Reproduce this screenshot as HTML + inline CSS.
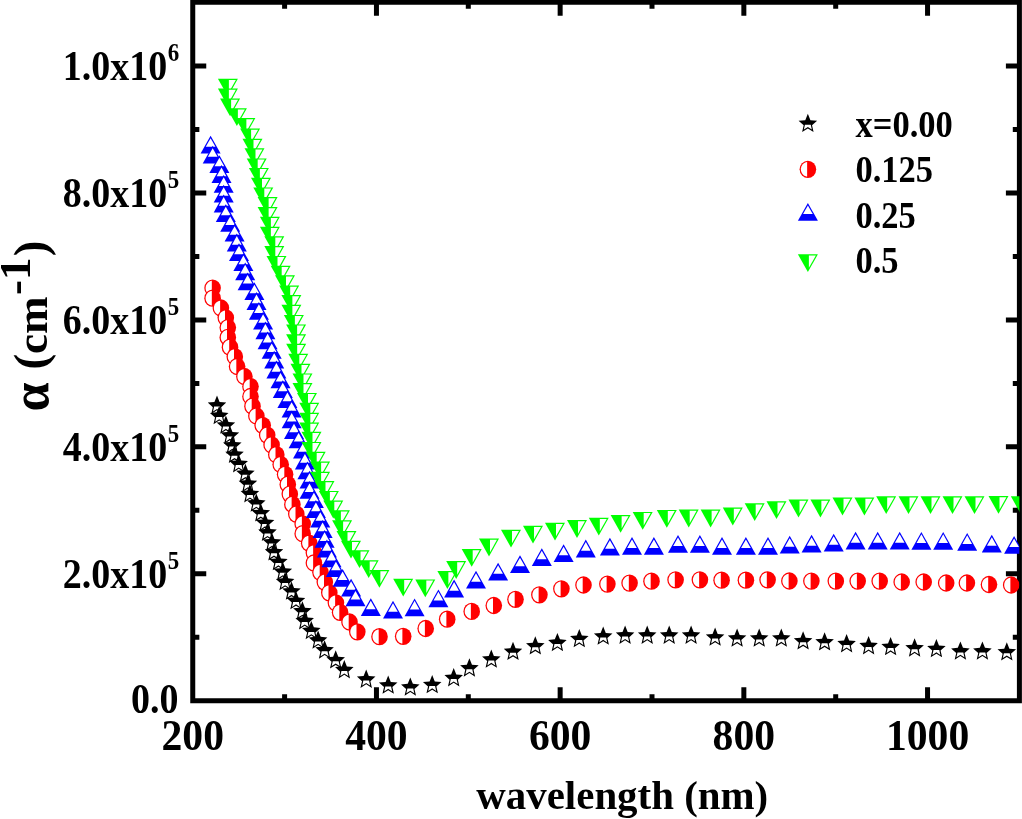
<!DOCTYPE html>
<html lang="en"><head><meta charset="utf-8"><title>Absorption coefficient vs wavelength</title>
<style>html,body{margin:0;padding:0;background:#fff;}body{width:1022px;height:819px;overflow:hidden;}svg{display:block;}</style></head><body>
<svg width="1022" height="819" viewBox="0 0 1022 819">
<defs>
<g id="s0"><polygon points="0,-9.89 2.58,-3.44 9.27,-2.88 4.17,1.66 5.73,8.45 0,4.81 -5.73,8.45 -4.17,1.66 -9.27,-2.88 -2.58,-3.44" fill="#000"/><polygon points="3.07,1.1 2.9,1.25 3.98,5.98 0,3.45 -3.98,5.98 -2.9,1.25 -3.07,1.1" fill="#fff"/></g>
<g id="s1"><ellipse rx="8.3" ry="8.65" fill="#f00"/><polygon points="-0.8,7.29 -0.91,7.29 -1.81,7.1 -2.68,6.79 -3.5,6.37 -4.26,5.83 -4.95,5.2 -5.55,4.47 -6.06,3.67 -6.47,2.81 -6.76,1.9 -6.94,0.96 -7,0 -6.94,-0.96 -6.76,-1.9 -6.47,-2.81 -6.06,-3.67 -5.55,-4.47 -4.95,-5.2 -4.26,-5.83 -3.5,-6.37 -2.68,-6.79 -1.81,-7.1 -0.91,-7.29 -0.8,-7.29" fill="#fff"/></g>
<g id="s2"><polygon points="0,-10.9 10,6.9 -10,6.9" fill="#00f"/><polygon points="0,-8.45 4.83,0.15 -4.83,0.15" fill="#fff"/></g>
<g id="s3"><polygon points="0,10.9 10,-6.9 -10,-6.9" fill="#0f0"/><polygon points="1,6.67 7.95,-5.7 1,-5.7" fill="#fff"/></g>
<clipPath id="cp"><rect x="192.75" y="2.2" width="826.65" height="698.55"/></clipPath>
</defs>
<rect width="1022" height="819" fill="#fff"/>
<g stroke="#000" stroke-width="5" fill="none" stroke-linecap="butt">
<path d="M190.25,700.75 H1021.9 M190.25,2.2 H1021.9 M192.75,2.2 V700.75 M1019.4,2.2 V700.75"/>
</g>
<g stroke="#000" stroke-width="5" fill="none">
<path d="M284.6,700.75 v-6.6 M284.6,2.2 v6.6 M376.45,700.75 v-13.5 M376.45,2.2 v13.5 M468.3,700.75 v-6.6 M468.3,2.2 v6.6 M560.15,700.75 v-13.5 M560.15,2.2 v13.5 M652,700.75 v-6.6 M652,2.2 v6.6 M743.85,700.75 v-13.5 M743.85,2.2 v13.5 M835.7,700.75 v-6.6 M835.7,2.2 v6.6 M927.55,700.75 v-13.5 M927.55,2.2 v13.5 M192.75,637.27 h6.6 M1019.4,637.27 h-6.6 M192.75,573.8 h13.5 M1019.4,573.8 h-13.5 M192.75,510.32 h6.6 M1019.4,510.32 h-6.6 M192.75,446.85 h13.5 M1019.4,446.85 h-13.5 M192.75,383.38 h6.6 M1019.4,383.38 h-6.6 M192.75,319.9 h13.5 M1019.4,319.9 h-13.5 M192.75,256.43 h6.6 M1019.4,256.43 h-6.6 M192.75,192.95 h13.5 M1019.4,192.95 h-13.5 M192.75,129.48 h6.6 M1019.4,129.48 h-6.6 M192.75,66 h13.5 M1019.4,66 h-13.5"/>
</g>
<g clip-path="url(#cp)">
<g id="series-x0">
<use href="#s0" x="217" y="405.5"/>
<use href="#s0" x="219.2" y="415.8"/>
<use href="#s0" x="225.9" y="425.4"/>
<use href="#s0" x="229.9" y="435.4"/>
<use href="#s0" x="232.3" y="445.4"/>
<use href="#s0" x="234.5" y="454.6"/>
<use href="#s0" x="238.7" y="464"/>
<use href="#s0" x="245.4" y="473.6"/>
<use href="#s0" x="247.9" y="483.7"/>
<use href="#s0" x="249.9" y="494"/>
<use href="#s0" x="256.3" y="503.3"/>
<use href="#s0" x="260.8" y="513.1"/>
<use href="#s0" x="265.1" y="522.9"/>
<use href="#s0" x="267.5" y="532.5"/>
<use href="#s0" x="271.9" y="542.4"/>
<use href="#s0" x="274" y="552.1"/>
<use href="#s0" x="278.4" y="561.9"/>
<use href="#s0" x="282.8" y="571.7"/>
<use href="#s0" x="285.1" y="581.8"/>
<use href="#s0" x="291.5" y="591.4"/>
<use href="#s0" x="296" y="600.9"/>
<use href="#s0" x="302.4" y="611.2"/>
<use href="#s0" x="304.7" y="621"/>
<use href="#s0" x="311.3" y="630.8"/>
<use href="#s0" x="318.1" y="640.3"/>
<use href="#s0" x="324.6" y="650.2"/>
<use href="#s0" x="335.7" y="660.1"/>
<use href="#s0" x="344.3" y="670"/>
<use href="#s0" x="366.2" y="679.5"/>
<use href="#s0" x="388.2" y="685.4"/>
<use href="#s0" x="410.3" y="687.3"/>
<use href="#s0" x="432.2" y="684.9"/>
<use href="#s0" x="453.7" y="678"/>
<use href="#s0" x="469.4" y="668.2"/>
<use href="#s0" x="491.3" y="659.4"/>
<use href="#s0" x="513" y="651.6"/>
<use href="#s0" x="535.3" y="646.1"/>
<use href="#s0" x="557.4" y="642.8"/>
<use href="#s0" x="579.3" y="638.9"/>
<use href="#s0" x="603.2" y="636.4"/>
<use href="#s0" x="625.1" y="635.5"/>
<use href="#s0" x="647.2" y="635.5"/>
<use href="#s0" x="669.2" y="635.5"/>
<use href="#s0" x="691.1" y="635.5"/>
<use href="#s0" x="715.1" y="637.4"/>
<use href="#s0" x="737.1" y="638.4"/>
<use href="#s0" x="759.2" y="638.4"/>
<use href="#s0" x="781.3" y="638.4"/>
<use href="#s0" x="803.1" y="641.1"/>
<use href="#s0" x="824.6" y="642.1"/>
<use href="#s0" x="846.6" y="644"/>
<use href="#s0" x="868.6" y="646"/>
<use href="#s0" x="890.6" y="646.9"/>
<use href="#s0" x="914.6" y="648.2"/>
<use href="#s0" x="936.4" y="648.9"/>
<use href="#s0" x="960.4" y="651.3"/>
<use href="#s0" x="982.4" y="651.3"/>
<use href="#s0" x="1006.8" y="652.1"/>
</g>
<g id="series-x0125">
<use href="#s1" x="212.6" y="288.1"/>
<use href="#s1" x="212.6" y="298.2"/>
<use href="#s1" x="220.9" y="308"/>
<use href="#s1" x="225.8" y="317.8"/>
<use href="#s1" x="227.8" y="327.6"/>
<use href="#s1" x="227.8" y="337.4"/>
<use href="#s1" x="230" y="347.2"/>
<use href="#s1" x="234.8" y="356.7"/>
<use href="#s1" x="237.1" y="366.5"/>
<use href="#s1" x="244.4" y="376.5"/>
<use href="#s1" x="250.5" y="386.6"/>
<use href="#s1" x="250.5" y="396.5"/>
<use href="#s1" x="252.5" y="406.2"/>
<use href="#s1" x="256.4" y="416"/>
<use href="#s1" x="262.7" y="425.3"/>
<use href="#s1" x="267.2" y="435.1"/>
<use href="#s1" x="271.6" y="444.9"/>
<use href="#s1" x="276.3" y="454.7"/>
<use href="#s1" x="280.7" y="464.5"/>
<use href="#s1" x="285.1" y="474.3"/>
<use href="#s1" x="287.8" y="484.4"/>
<use href="#s1" x="289.8" y="494.1"/>
<use href="#s1" x="292.4" y="504.4"/>
<use href="#s1" x="296.3" y="514.1"/>
<use href="#s1" x="302.7" y="523.9"/>
<use href="#s1" x="302.7" y="533.7"/>
<use href="#s1" x="309.2" y="543.2"/>
<use href="#s1" x="313.9" y="552.8"/>
<use href="#s1" x="313.9" y="563"/>
<use href="#s1" x="320.5" y="572.3"/>
<use href="#s1" x="324.8" y="582.1"/>
<use href="#s1" x="329.3" y="592.8"/>
<use href="#s1" x="335.9" y="602.8"/>
<use href="#s1" x="340.1" y="612.3"/>
<use href="#s1" x="349.5" y="622"/>
<use href="#s1" x="357.3" y="631.8"/>
<use href="#s1" x="379.5" y="636.7"/>
<use href="#s1" x="403.2" y="636.3"/>
<use href="#s1" x="425.7" y="628.5"/>
<use href="#s1" x="447.2" y="619.2"/>
<use href="#s1" x="471.7" y="611.4"/>
<use href="#s1" x="493.8" y="605.5"/>
<use href="#s1" x="515.5" y="599.3"/>
<use href="#s1" x="539.4" y="594.8"/>
<use href="#s1" x="561.4" y="588.8"/>
<use href="#s1" x="583.5" y="585"/>
<use href="#s1" x="607.4" y="584.1"/>
<use href="#s1" x="629.6" y="583.1"/>
<use href="#s1" x="651.5" y="581.2"/>
<use href="#s1" x="675.6" y="579.8"/>
<use href="#s1" x="699.9" y="579.8"/>
<use href="#s1" x="721.6" y="580.2"/>
<use href="#s1" x="745.9" y="580.2"/>
<use href="#s1" x="767.6" y="579.8"/>
<use href="#s1" x="789.4" y="581"/>
<use href="#s1" x="811.4" y="581.1"/>
<use href="#s1" x="835.8" y="581.1"/>
<use href="#s1" x="857.7" y="581.1"/>
<use href="#s1" x="879.7" y="581.1"/>
<use href="#s1" x="901.7" y="582"/>
<use href="#s1" x="923.7" y="582"/>
<use href="#s1" x="946.2" y="583"/>
<use href="#s1" x="966.9" y="583"/>
<use href="#s1" x="989" y="584.5"/>
<use href="#s1" x="1011.2" y="585"/>
</g>
<g id="series-x025">
<use href="#s2" x="210.6" y="146.7"/>
<use href="#s2" x="212.7" y="156.7"/>
<use href="#s2" x="219.4" y="166.2"/>
<use href="#s2" x="221.5" y="176"/>
<use href="#s2" x="223.7" y="185.8"/>
<use href="#s2" x="223.7" y="195.6"/>
<use href="#s2" x="223.7" y="205.5"/>
<use href="#s2" x="225.8" y="215.1"/>
<use href="#s2" x="230.2" y="224.9"/>
<use href="#s2" x="234.6" y="234.7"/>
<use href="#s2" x="236.8" y="244.5"/>
<use href="#s2" x="239" y="254.2"/>
<use href="#s2" x="243.4" y="264"/>
<use href="#s2" x="245.2" y="273.3"/>
<use href="#s2" x="247.6" y="283.4"/>
<use href="#s2" x="254.4" y="293.2"/>
<use href="#s2" x="256.5" y="303"/>
<use href="#s2" x="258.9" y="312.8"/>
<use href="#s2" x="263.1" y="322.6"/>
<use href="#s2" x="265.4" y="332.4"/>
<use href="#s2" x="267.6" y="342.3"/>
<use href="#s2" x="271.7" y="351.9"/>
<use href="#s2" x="274.2" y="361.7"/>
<use href="#s2" x="276.4" y="371.5"/>
<use href="#s2" x="280.5" y="381.4"/>
<use href="#s2" x="282.8" y="391.1"/>
<use href="#s2" x="287.4" y="401"/>
<use href="#s2" x="291.6" y="410.6"/>
<use href="#s2" x="291.7" y="421.4"/>
<use href="#s2" x="294" y="432.1"/>
<use href="#s2" x="298.6" y="441.4"/>
<use href="#s2" x="303" y="451.7"/>
<use href="#s2" x="304.9" y="462.5"/>
<use href="#s2" x="307.4" y="472.3"/>
<use href="#s2" x="309.5" y="481.6"/>
<use href="#s2" x="309.5" y="491.9"/>
<use href="#s2" x="313.9" y="501.2"/>
<use href="#s2" x="315.9" y="511"/>
<use href="#s2" x="320.3" y="520.7"/>
<use href="#s2" x="322.6" y="531"/>
<use href="#s2" x="324.6" y="540.8"/>
<use href="#s2" x="326.9" y="550.5"/>
<use href="#s2" x="331.5" y="560.3"/>
<use href="#s2" x="335.9" y="570.1"/>
<use href="#s2" x="342.6" y="579.9"/>
<use href="#s2" x="351.1" y="589.7"/>
<use href="#s2" x="355.5" y="599.4"/>
<use href="#s2" x="370.8" y="609.2"/>
<use href="#s2" x="393" y="611.7"/>
<use href="#s2" x="414.6" y="609.3"/>
<use href="#s2" x="438.4" y="600.3"/>
<use href="#s2" x="454.1" y="590.5"/>
<use href="#s2" x="476" y="581.7"/>
<use href="#s2" x="498.1" y="573.7"/>
<use href="#s2" x="520" y="566.1"/>
<use href="#s2" x="541.8" y="559.1"/>
<use href="#s2" x="563.6" y="555.1"/>
<use href="#s2" x="585.8" y="550.5"/>
<use href="#s2" x="609.9" y="548.6"/>
<use href="#s2" x="632" y="547.9"/>
<use href="#s2" x="653.9" y="547.9"/>
<use href="#s2" x="678" y="545.9"/>
<use href="#s2" x="699.9" y="545.9"/>
<use href="#s2" x="722" y="547.9"/>
<use href="#s2" x="745.9" y="547.9"/>
<use href="#s2" x="768" y="547.9"/>
<use href="#s2" x="789.7" y="546.7"/>
<use href="#s2" x="811.6" y="545.7"/>
<use href="#s2" x="833.7" y="544.7"/>
<use href="#s2" x="855.6" y="542.7"/>
<use href="#s2" x="877.7" y="542.7"/>
<use href="#s2" x="899.7" y="542.7"/>
<use href="#s2" x="921.4" y="542.8"/>
<use href="#s2" x="943.2" y="542.8"/>
<use href="#s2" x="967.2" y="543.8"/>
<use href="#s2" x="991.8" y="545.7"/>
<use href="#s2" x="1014.1" y="546.9"/>
</g>
<g id="series-x05">
<use href="#s3" x="227.9" y="85.7"/>
<use href="#s3" x="227.9" y="95.5"/>
<use href="#s3" x="230.1" y="105.4"/>
<use href="#s3" x="236.9" y="115.1"/>
<use href="#s3" x="245.4" y="124.9"/>
<use href="#s3" x="250.1" y="135.4"/>
<use href="#s3" x="252.5" y="145.6"/>
<use href="#s3" x="254.5" y="155.2"/>
<use href="#s3" x="256.7" y="165.3"/>
<use href="#s3" x="258.9" y="174.8"/>
<use href="#s3" x="261" y="184.6"/>
<use href="#s3" x="263.3" y="194.3"/>
<use href="#s3" x="267.6" y="204"/>
<use href="#s3" x="267.6" y="213.9"/>
<use href="#s3" x="269.9" y="223.6"/>
<use href="#s3" x="269.9" y="233.6"/>
<use href="#s3" x="274.3" y="243.2"/>
<use href="#s3" x="274.3" y="253"/>
<use href="#s3" x="276.5" y="262.8"/>
<use href="#s3" x="280.7" y="272.6"/>
<use href="#s3" x="285" y="282.1"/>
<use href="#s3" x="289.2" y="292.5"/>
<use href="#s3" x="291.4" y="301.9"/>
<use href="#s3" x="291.4" y="311.7"/>
<use href="#s3" x="293.9" y="321.8"/>
<use href="#s3" x="296.1" y="331.3"/>
<use href="#s3" x="296.1" y="341.1"/>
<use href="#s3" x="296.2" y="350.7"/>
<use href="#s3" x="298.3" y="360.7"/>
<use href="#s3" x="300.5" y="370.7"/>
<use href="#s3" x="302.5" y="380.3"/>
<use href="#s3" x="302.5" y="390"/>
<use href="#s3" x="307" y="399.8"/>
<use href="#s3" x="309.3" y="409.6"/>
<use href="#s3" x="309.3" y="419.6"/>
<use href="#s3" x="309.3" y="429.5"/>
<use href="#s3" x="311.5" y="438.7"/>
<use href="#s3" x="311.5" y="448.8"/>
<use href="#s3" x="315.7" y="458.6"/>
<use href="#s3" x="320.1" y="468.4"/>
<use href="#s3" x="320.1" y="478.6"/>
<use href="#s3" x="324.5" y="488"/>
<use href="#s3" x="328.9" y="497.8"/>
<use href="#s3" x="333.3" y="507.5"/>
<use href="#s3" x="339.9" y="517.1"/>
<use href="#s3" x="342.1" y="527.1"/>
<use href="#s3" x="346.5" y="537.9"/>
<use href="#s3" x="351" y="547.7"/>
<use href="#s3" x="359.5" y="557.1"/>
<use href="#s3" x="368.7" y="567.2"/>
<use href="#s3" x="379.4" y="576.9"/>
<use href="#s3" x="403.2" y="585.7"/>
<use href="#s3" x="425.3" y="586.3"/>
<use href="#s3" x="447.4" y="578"/>
<use href="#s3" x="456.2" y="568"/>
<use href="#s3" x="471.7" y="555.9"/>
<use href="#s3" x="489" y="545.5"/>
<use href="#s3" x="511" y="536.7"/>
<use href="#s3" x="533" y="532.7"/>
<use href="#s3" x="555" y="529.7"/>
<use href="#s3" x="577" y="527"/>
<use href="#s3" x="598.8" y="524.7"/>
<use href="#s3" x="620.6" y="521.9"/>
<use href="#s3" x="642.7" y="518.8"/>
<use href="#s3" x="666.8" y="516.8"/>
<use href="#s3" x="688.7" y="516.5"/>
<use href="#s3" x="710.6" y="516.5"/>
<use href="#s3" x="732.8" y="514.5"/>
<use href="#s3" x="754.7" y="510.2"/>
<use href="#s3" x="776.5" y="508.1"/>
<use href="#s3" x="798.5" y="506.5"/>
<use href="#s3" x="820.4" y="506.5"/>
<use href="#s3" x="842.5" y="504.5"/>
<use href="#s3" x="864.4" y="504.5"/>
<use href="#s3" x="886.2" y="503.1"/>
<use href="#s3" x="908.5" y="503.1"/>
<use href="#s3" x="930.5" y="503.1"/>
<use href="#s3" x="952.5" y="503.1"/>
<use href="#s3" x="974.5" y="503.1"/>
<use href="#s3" x="998.5" y="502.9"/>
<use href="#s3" x="1020.8" y="503.1"/>
</g>
</g>
<use href="#s0" x="807.85" y="123.6"/>
<use href="#s1" x="807.9" y="169.3"/>
<use href="#s2" x="807.9" y="213.9"/>
<use href="#s3" x="807.9" y="261.1"/>
<g font-family="'Liberation Serif','Times New Roman',serif" font-weight="bold" fill="#000">
<text transform="translate(131,713.35) scale(0.92,1)" font-size="41.3">0.0</text>
<text transform="translate(62.8,588) scale(0.92,1)" font-size="41.3">2.0x10<tspan font-size="25" dx="0.5" dy="-19.5">5</tspan></text>
<text transform="translate(62.8,461.05) scale(0.92,1)" font-size="41.3">4.0x10<tspan font-size="25" dx="0.5" dy="-19.5">5</tspan></text>
<text transform="translate(62.8,334.1) scale(0.92,1)" font-size="41.3">6.0x10<tspan font-size="25" dx="0.5" dy="-19.5">5</tspan></text>
<text transform="translate(62.8,207.15) scale(0.92,1)" font-size="41.3">8.0x10<tspan font-size="25" dx="0.5" dy="-19.5">5</tspan></text>
<text transform="translate(62.8,80.2) scale(0.92,1)" font-size="41.3">1.0x10<tspan font-size="25" dx="0.5" dy="-19.5">6</tspan></text>
<text transform="translate(192.75,749.6) scale(0.92,1)" font-size="45.3" text-anchor="middle">200</text>
<text transform="translate(376.45,749.6) scale(0.92,1)" font-size="45.3" text-anchor="middle">400</text>
<text transform="translate(560.15,749.6) scale(0.92,1)" font-size="45.3" text-anchor="middle">600</text>
<text transform="translate(743.85,749.6) scale(0.92,1)" font-size="45.3" text-anchor="middle">800</text>
<text transform="translate(927.55,749.6) scale(0.92,1)" font-size="45.3" text-anchor="middle">1000</text>
<text x="476.3" y="809" font-size="40.9">wavelength (nm)</text>
<text transform="translate(46.7,410) rotate(-90)" font-size="45"><tspan x="-1.5" y="1" font-size="52">α</tspan><tspan x="26.5" y="0"> </tspan><tspan x="40.4" y="-0.5" font-size="47">(</tspan><tspan x="56" y="0">cm</tspan><tspan x="115" y="-17">-1</tspan><tspan x="153.8" y="-0.5" font-size="47">)</tspan></text>
<text transform="translate(855.5,137.1) scale(0.92,1)" font-size="37.5">x=0.00</text>
<text transform="translate(855.5,182.4) scale(0.92,1)" font-size="37.5">0.125</text>
<text transform="translate(855.5,227.7) scale(0.92,1)" font-size="37.5">0.25</text>
<text transform="translate(855.5,273) scale(0.92,1)" font-size="37.5">0.5</text>
</g>
</svg></body></html>
